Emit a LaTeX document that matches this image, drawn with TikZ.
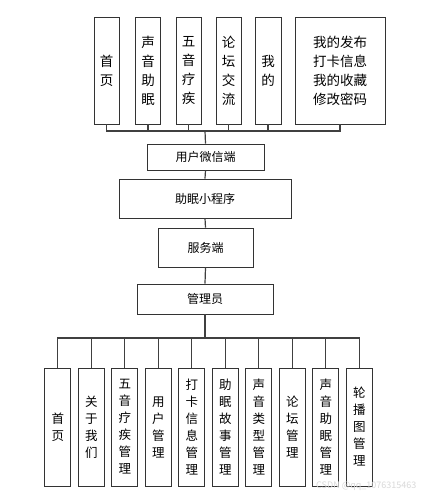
\documentclass[tikz,border=0pt]{standalone}
\usepackage{fontspec}
\newfontfamily\cjk{Noto Sans CJK SC}
\begin{document}
\begin{tikzpicture}[x=1pt,y=-1pt,
  box/.style={draw=black!80,line width=0.9pt,fill=white,inner sep=0pt,align=center},
  topbox/.style={box,minimum height=107pt,font=\cjk\fontsize{13.5}{19}\selectfont},
  botbox/.style={box,minimum width=26pt,minimum height=118pt,font=\cjk\fontsize{12.5}{17}\selectfont},
  midbox/.style={box,font=\cjk\fontsize{12}{14}\selectfont},
  conn/.style={draw=black!75,line width=1.2pt}]
\useasboundingbox[fill=white] (0,0) rectangle (431,498);
% top row
\node[topbox,minimum width=25pt] (t1) at (106.5,70.5) {首\\页};
\node[topbox,minimum width=25pt] (t2) at (148,70.5) {声\\音\\助\\眠};
\node[topbox,minimum width=25pt] (t3) at (188.5,70.5) {五\\音\\疗\\疾};
\node[topbox,minimum width=25pt] (t4) at (228.5,70.5) {论\\坛\\交\\流};
\node[topbox,minimum width=26pt] (t5) at (268,70.5) {我\\的};
\node[topbox,minimum width=90pt] (t6) at (340,70.5) {我的发布\\打卡信息\\我的收藏\\修改密码};
% middle chain
\node[midbox,minimum width=117pt,minimum height=26pt] (u) at (205.5,157) {用户微信端};
\node[midbox,minimum width=172pt,minimum height=39pt] (p) at (205,198.5) {助眠小程序};
\node[midbox,minimum width=95pt,minimum height=39pt] (s) at (205.5,247.5) {服务端};
\node[midbox,minimum width=136pt,minimum height=30pt] (m) at (205,299) {管理员};
\coordinate (topbus) at (205,131);
\coordinate (botbus) at (205,338);
\foreach \i in {1,...,6} {\draw[conn] (t\i.south) |- (topbus);}
\draw[conn] (topbus) -- (u.north);
\draw[conn] (u.south) -- (p.north);
\draw[conn] (p.south) -- (s.north);
\draw[conn] (s.south) -- (m.north);
\draw[conn] (m.south) -- (botbus);
% bottom row
\foreach \t [count=\i from 0] in {首\\页,关\\于\\我\\们,五\\音\\疗\\疾\\管\\理,用\\户\\管\\理,打\\卡\\信\\息\\管\\理,助\\眠\\故\\事\\管\\理,声\\音\\类\\型\\管\\理,论\\坛\\管\\理,声\\音\\助\\眠\\管\\理,轮\\播\\图\\管\\理} {
  \node[botbox] (b\i) at ({57.8+33.5*\i},427) {\t};
  \draw[conn] (botbus) -| (b\i.north);
}
\node[font=\cjk\fontsize{9}{10}\selectfont,text=black!15,anchor=west,inner sep=0pt] (wm) at (316,486) {CSDN @qq\_1076315463};
\end{tikzpicture}
\end{document}
